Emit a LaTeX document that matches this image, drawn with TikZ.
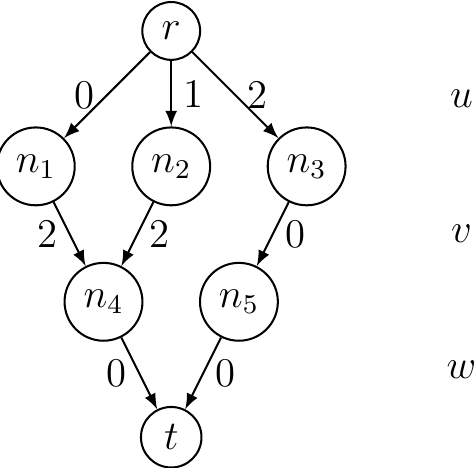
\documentclass[tikz,border=0pt]{standalone}
\begin{document}
\begin{tikzpicture}[semithick, font=\large, vertex/.style={draw, circle}, >=latex]
\useasboundingbox (-1.77,0.32) rectangle (3.13,-4.51);
\node[vertex] (r) at (0,0) {$r$};
\node[vertex] (n1) at (-1.4,-1.4) {$n_1$};
\node[vertex] (n2) at (0,-1.4) {$n_2$};
\node[vertex] (n3) at (1.4,-1.4) {$n_3$};
\node[vertex] (n4) at (-0.7,-2.8) {$n_4$};
\node[vertex] (n5) at (0.7,-2.8) {$n_5$};
\node[vertex] (t) at (0,-4.2) {$t$};
\node (u) at (3,-0.7) {$u$};
\node (v) at (3,-2.1) {$v$};
\node (w) at (3,-3.5) {$w$};
  \draw[->] (r) -- node[left] {0} (n1);
  \draw[->] (r) -- node[right] {1} (n2);
  \draw[->] (r) -- node[right] {2} (n3);
  \draw[->] (n1) -- node[left] {2} (n4);
  \draw[->] (n2) -- node[right] {2} (n4);
  \draw[->] (n3) -- node[right] {0} (n5);
  \draw[->] (n4) -- node[left] {0} (t);
  \draw[->] (n5) -- node[right] {0} (t);
\end{tikzpicture}
\end{document}
